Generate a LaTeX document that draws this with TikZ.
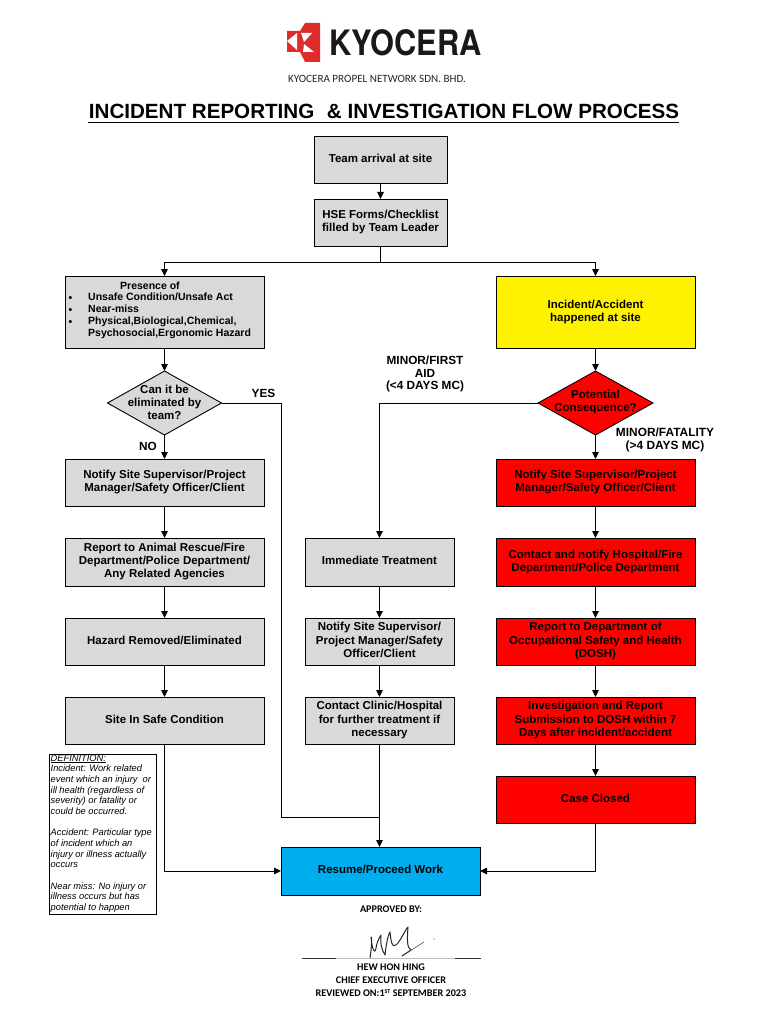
\documentclass[tikz,border=0pt]{standalone}
\usepackage{fontspec}
\setmainfont{Liberation Sans}
\newfontfamily\carl{Carlito}
\newfontfamily\logofont{TeX Gyre Heros}
\usetikzlibrary{arrows.meta,shapes.geometric}
\definecolor{boxgrey}{HTML}{D9D9D9}
\definecolor{kred}{HTML}{E02B2B}
\definecolor{resumeblue}{HTML}{00AEEF}
\tikzset{
 base/.style={draw=black,line width=0.9pt,outer sep=0pt,align=center,font=\fontsize{11.5}{13.3}\selectfont\bfseries,text=black,inner sep=0pt,anchor=north west},
 greybox/.style={base,fill=boxgrey},
 redbox/.style={base,fill=red},
 conn/.style={line width=0.9pt,draw=black,-{Triangle[length=7pt,width=6.5pt]}},
 lab/.style={font=\fontsize{11.8}{12.8}\selectfont\bfseries,align=center,inner sep=0pt},
 foot/.style={font=\carl\fontsize{10.2}{12}\selectfont\bfseries,inner sep=0pt},
}
\newcommand{\bx}[6]{\node[#1,minimum width=#4pt,minimum height=#5pt] (#2) at #3 {\raisebox{1.6pt}{\begin{tabular}{@{}c@{}}#6\end{tabular}}};}
\begin{document}
\begin{tikzpicture}[x=1pt,y=-1pt]
\useasboundingbox (0,0) rectangle (768,1024);
\fill[white] (0,0) rectangle (768,1024);
% logo
\fill[kred] (287,31) -- (300,31) -- (305,23) -- (320,23) -- (320,62) -- (305,62) -- (300,52) -- (287,52) -- cycle;
\fill[white] (301,33) -- (312,33) -- (304,42) -- cycle;
\fill[white] (287,41) -- (297,33) -- (297,50) -- cycle;
\fill[white] (304,44) -- (314,52) -- (303,52) -- cycle;
\node[inner sep=0pt,anchor=west,font=\logofont\fontsize{35}{35}\selectfont\bfseries,text=black!90] (logotext) at (329,43) {\scalebox{0.88}[1]{KYOCERA}};
\node[inner sep=0pt,font=\carl\fontsize{11.1}{12}\selectfont,text=black!85] (logosub) at (377,79) {KYOCERA PROPEL NETWORK SDN. BHD.};
% title
\node[inner sep=0pt,font=\fontsize{20.6}{24}\selectfont\bfseries] (title) at (384,111) {INCIDENT REPORTING \,\,\& INVESTIGATION FLOW PROCESS};
\draw[line width=1.3pt] (88,122.5) -- (679,122.5);
% boxes
\bx{greybox}{team}{(314,136)}{133}{47}{Team arrival at site}
\bx{greybox}{hse}{(314,199)}{133}{47}{HSE Forms/Checklist\\filled by Team Leader}
\node[greybox,minimum width=199pt,minimum height=72pt] (pres) at (65,276) {};
\node[anchor=north west,inner sep=0pt,font=\fontsize{10.5}{12}\selectfont\bfseries] (presa) at (120,281.5) {Presence of};
\node[anchor=north west,inner sep=0pt,font=\fontsize{10.5}{12}\selectfont\bfseries,align=left] (presb) at (88,293) {Unsafe Condition/Unsafe Act\\Near-miss\\Physical,Biological,Chemical,\\Psychosocial,Ergonomic Hazard};
\node[inner sep=0pt,font=\fontsize{10.5}{12}\selectfont\bfseries,anchor=north west,align=left] (presc) at (68.5,296) {•\\•\\•};
\bx{base,fill=yellow}{inc}{(496,276)}{199}{72}{Incident/Accident\\happened at site}
\node[diamond,draw=black,line width=0.9pt,outer sep=0pt,fill=boxgrey,minimum width=114pt,minimum height=64pt,inner sep=0pt] (dl) at (164.5,403) {};
\node[lab,font=\fontsize{11.5}{13}\selectfont\bfseries] (dlt) at (164.5,402) {Can it be\\eliminated by\\team?};
\node[diamond,draw=black,line width=0.9pt,outer sep=0pt,fill=red,minimum width=115pt,minimum height=64pt,inner sep=0pt] (dr) at (595.5,403) {};
\node[lab,font=\fontsize{11.5}{12.6}\selectfont\bfseries] (drt) at (595.5,402) {Potential\\Consequence?};
\bx{greybox}{l1}{(65,459)}{199}{47}{Notify Site Supervisor/Project\\Manager/Safety Officer/Client}
\bx{greybox}{l2}{(65,538)}{199}{48}{Report to Animal Rescue/Fire\\Department/Police Department/\\Any Related Agencies}
\bx{greybox}{l3}{(65,618)}{199}{47}{Hazard Removed/Eliminated}
\bx{greybox}{l4}{(65,697)}{199}{47}{Site In Safe Condition}
\bx{greybox}{m1}{(305,538)}{149}{48}{Immediate Treatment}
\bx{greybox}{m2}{(305,618)}{149}{47}{Notify Site Supervisor/\\Project Manager/Safety\\Officer/Client}
\bx{greybox}{m3}{(305,697)}{149}{47}{Contact Clinic/Hospital\\for further treatment if\\necessary}
\bx{redbox}{r1}{(496,459)}{199}{47}{Notify Site Supervisor/Project\\Manager/Safety Officer/Client}
\bx{redbox}{r2}{(496,538)}{199}{48}{Contact and notify Hospital/Fire\\Department/Police Department}
\bx{redbox}{r3}{(496,618)}{199}{47}{Report to Department of\\Occupational Safety and Health\\(DOSH)}
\bx{redbox}{r4}{(496,697)}{199}{47}{Investigation and Report\\Submission to DOSH within 7\\Days after incident/accident}
\bx{redbox}{r5}{(496,776)}{199}{47}{Case Closed}
\bx{base,fill=resumeblue}{res}{(281,847)}{199}{48}{Resume/Proceed Work}
% definition
\node[draw=black,line width=0.8pt,outer sep=0pt,anchor=north west,minimum width=107pt,minimum height=160pt,inner sep=0pt] (defbox) at (49,754) {};
\node[anchor=north west,inner sep=0pt,align=left,font=\fontsize{9.3}{10.65}\selectfont\itshape] (deft) at (50.5,754.5) {\underline{DEFINITION:}\\Incident: Work related\\event which an injury \ or\\ill health (regardless of\\severity) or fatality or\\could be occurred.\\[10.65pt]Accident: Particular type\\of incident which an\\injury or illness actually\\occurs\\[10.65pt]Near miss: No injury or\\illness occurs but has\\potential to happen};
% connectors
\draw[conn] (team) -- (hse);
\coordinate (split) at ([yshift=-16pt]hse.south);
\draw[line width=0.9pt] (hse.south) -- (split);
\draw[conn] (split) -| (pres.north);
\draw[conn] (split) -| (inc.north);
\draw[conn] (pres) -- (dl);
\draw[conn] (inc) -- (dr);
\draw[conn] (dl) -- (l1);
\draw[conn] (l1) -- (l2);
\draw[conn] (l2) -- (l3);
\draw[conn] (l3) -- (l4);
\draw[conn] (dr) -- (r1);
\draw[conn] (r1) -- (r2);
\draw[conn] (r2) -- (r3);
\draw[conn] (r3) -- (r4);
\draw[conn] (r4) -- (r5);
\draw[conn] (dr.west) -| (m1.north);
\draw[conn] (m1) -- (m2);
\draw[conn] (m2) -- (m3);
\draw[conn] (m3.south) -- (m3.south |- res.north);
\coordinate (ya) at (281,403);
\coordinate (yb) at (281,817);
\coordinate (yc) at (m3.south |- yb);
\draw[line width=0.9pt] (dl.east) -- (ya) -- (yb) -- (yc);
\draw[conn] (l4.south) |- (res.west);
\draw[conn] (r5.south) |- (res.east);
% labels
\node[lab] (yes) at (263.5,393) {YES};
\node[lab] (no) at (148,446) {NO};
\node[lab] (minor) at (425,374) {MINOR/FIRST\\AID\\(<4 DAYS MC)};
\node[lab,font=\fontsize{11.9}{12.9}\selectfont\bfseries] (fatal) at (665,440) {MINOR/FATALITY\\(>4 DAYS MC)};
% footer
\node[foot] (appr) at (391,909) {APPROVED BY:};
\draw[line width=0.7pt,black!80] (302,958) -- (336,958) (455,958) -- (481,958);
\draw[line width=0.4pt,black!25] (336,958) -- (455,958);
\draw[line width=1pt,black!85,line join=round] (370,958) .. controls (372,945) and (372,935) .. (371,937) .. controls (372,950) and (375,955) .. (376,948) .. controls (377,942) and (379,938) .. (381,935) .. controls (380,945) and (382,950) .. (385,955) .. controls (386,945) and (388,935) .. (390,932) .. controls (391,942) and (392,948) .. (396,945) .. controls (400,942) and (405,930) .. (408,927) .. controls (407,940) and (407,948) .. (411,950) -- (402,956);
\draw[line width=0.6pt,black!70] (402,956) -- (424,942);
\fill[black!70] (434,939) circle (0.7);
\node[foot] (name) at (391,967) {HEW HON HING};
\node[foot] (ceo) at (391,980) {CHIEF EXECUTIVE OFFICER};
\node[foot] (rev) at (391,993) {REVIEWED ON:1\raisebox{3.5pt}{\fontsize{6}{6}\selectfont ST} SEPTEMBER 2023};
\end{tikzpicture}
\end{document}
